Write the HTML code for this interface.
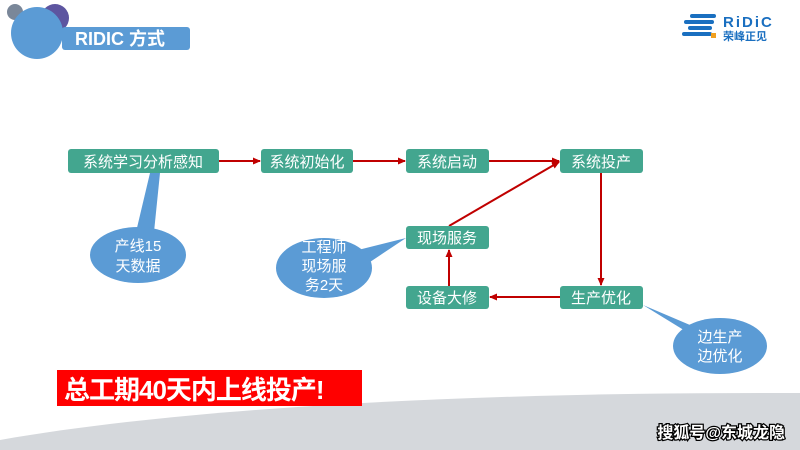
<!DOCTYPE html>
<html><head><meta charset="utf-8"><style>
body{margin:0;width:800px;height:450px;overflow:hidden;background:#fff;font-family:"Liberation Sans","Noto Sans CJK SC",sans-serif;}
</style></head><body>
<svg width="800" height="450" viewBox="0 0 800 450" xmlns="http://www.w3.org/2000/svg" style="position:absolute;left:0;top:0">
<defs>
<marker id="ar" markerWidth="8" markerHeight="8" refX="7" refY="4" orient="auto" markerUnits="userSpaceOnUse"><path d="M0,0.5 L8,4 L0,7.5 z" fill="#c00000"/></marker>
</defs>
<path d="M0,440 C200,405 500,392 800,393 L800,450 L0,450 z" fill="#d5d8dc"/>
<circle cx="15" cy="12" r="8" fill="#7a8799"/>
<circle cx="55" cy="18" r="14" fill="#5d55a0"/>
<circle cx="37" cy="33" r="26" fill="#5b9bd5"/>
<rect x="62" y="27" width="128" height="23" rx="3" fill="#5b9bd5"/>
<text x="75" y="45" font-size="18" font-weight="bold" fill="#fff" font-family="Liberation Sans,Noto Sans CJK SC,sans-serif">RIDIC 方式</text>
<g fill="#1a6fc0">
<rect x="690" y="14" width="26" height="4" rx="2"/>
<rect x="684" y="20" width="30" height="4" rx="2"/>
<rect x="688" y="26" width="24" height="4" rx="2"/>
<rect x="682" y="32" width="30" height="4" rx="2"/>
<text x="723" y="27" font-size="15" font-weight="bold" font-family="Liberation Sans,sans-serif" letter-spacing="2">RiDiC</text>
<text x="723" y="40" font-size="11" font-weight="bold" font-family="Noto Sans CJK SC,sans-serif">荣峰正见</text>
</g>
<rect x="711" y="33" width="5" height="5" fill="#f0a020"/>
<g fill="#5b9bd5">
<path d="M150,173 L160,173 L154,232 L136,232 z"/>
<ellipse cx="138" cy="255" rx="48" ry="28"/>
<path d="M406,238 L358,250 L370,262 z"/>
<ellipse cx="324" cy="268" rx="48" ry="30"/>
<path d="M643,305 L690,325 L700,340 z"/>
<ellipse cx="720" cy="346" rx="47" ry="28"/>
</g>
<g fill="#fff" font-size="15" text-anchor="middle" font-family="Liberation Sans,Noto Sans CJK SC,sans-serif">
<text x="138" y="251">产线15</text><text x="138" y="271">天数据</text>
<text x="324" y="252">工程师</text><text x="324" y="271">现场服</text><text x="324" y="290">务2天</text>
<text x="720" y="342">边生产</text><text x="720" y="361">边优化</text>
</g>
<g stroke="#c00000" stroke-width="2" fill="none" marker-end="url(#ar)">
<line x1="219" y1="161" x2="260" y2="161"/>
<line x1="353" y1="161" x2="405" y2="161"/>
<line x1="489" y1="161" x2="559" y2="161"/>
<line x1="449" y1="226" x2="559" y2="162"/>
<line x1="601" y1="173" x2="601" y2="285"/>
<line x1="560" y1="297" x2="490" y2="297"/>
<line x1="449" y1="286" x2="449" y2="250"/>
</g>
<g fill="#43a68f">
<rect x="68" y="149" width="151" height="24" rx="3"/>
<rect x="261" y="149" width="92" height="24" rx="3"/>
<rect x="406" y="149" width="83" height="24" rx="3"/>
<rect x="560" y="149" width="83" height="24" rx="3"/>
<rect x="406" y="226" width="83" height="23" rx="3"/>
<rect x="406" y="286" width="83" height="23" rx="3"/>
<rect x="560" y="286" width="83" height="23" rx="3"/>
</g>
<g fill="#fff" font-size="15" text-anchor="middle" font-family="Liberation Sans,Noto Sans CJK SC,sans-serif">
<text x="143" y="167">系统学习分析感知</text>
<text x="307" y="167">系统初始化</text>
<text x="447" y="167">系统启动</text>
<text x="601" y="167">系统投产</text>
<text x="447" y="243">现场服务</text>
<text x="447" y="303">设备大修</text>
<text x="601" y="303">生产优化</text>
</g>
<rect x="57" y="370" width="305" height="36" fill="#ff0000"/>
<text x="64" y="399" font-size="26" font-weight="bold" fill="#fff" letter-spacing="-1" font-family="Liberation Sans Narrow,Liberation Sans,Noto Sans CJK SC,sans-serif">总工期40天内上线投产!</text>
<text x="785" y="438" text-anchor="end" font-size="16" font-weight="bold" fill="#fff" stroke="#000" stroke-width="2.5" paint-order="stroke" font-family="Liberation Sans,Noto Sans CJK SC,sans-serif">搜狐号@东城龙隐</text>
</svg>
</body></html>
